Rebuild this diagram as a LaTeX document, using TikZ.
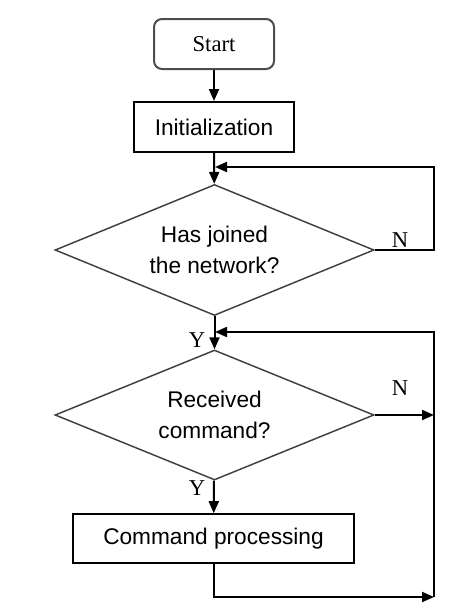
\documentclass[tikz,border=0pt]{standalone}
\usepackage{fontspec}
\setmainfont{Liberation Serif}
\newfontfamily\arialfont{Liberation Sans}
\usetikzlibrary{shapes.geometric,arrows.meta}

\begin{document}
\begin{tikzpicture}[x=0.75pt,y=-0.75pt,
    arr/.style={-{Triangle[length=9pt,width=7.5pt]},line width=1.5pt},
    procbox/.style={draw,line width=1.5pt,inner sep=0pt,font=\arialfont\fontsize{17}{23}\selectfont},
    decision/.style={diamond,aspect=2.44,draw=black!75,line width=1.1pt,inner sep=0pt,align=center,
      minimum width=239.25pt,font=\arialfont\fontsize{17}{23}\selectfont},
    yn/.style={inner sep=0pt,font=\fontsize{17}{20}\selectfont}]
  \useasboundingbox (0,0) rectangle (457,615);
  \draw
    (214,44) node[draw=black!70,line width=1.5pt,rounded corners=6pt,minimum width=90pt,
      minimum height=37.5pt,font=\fontsize{17}{20}\selectfont] (start){Start}
    (214,127) node[procbox,minimum width=120pt,minimum height=37.5pt] (init){Initialization}
    (214.5,250) node[decision,minimum height=98.25pt] (joined){Has joined\\the network?}
    (214.5,415) node[decision,minimum height=97.5pt] (received){Received\\command?}
    (213.5,538.5) node[procbox,line width=1.2pt,minimum width=210.75pt,minimum height=36.75pt] (process){Command processing}
    (400,240) node[yn] (n1){N}
    (400,388) node[yn] (n2){N}
    (197,340) node[yn] (y1){Y}
    (197,488) node[yn] (y2){Y};
  \coordinate (join1) at (215,167);
  \coordinate (loop1) at (434,167);
  \coordinate (join2) at (215,332);
  \coordinate (loop2) at (434,332);
  \coordinate (mid2) at (434,415);
  \coordinate (back) at (434,597);
  \begin{scope}[arr]
    \draw (start) to (init);
    \draw (init) to (joined);
    \draw (joined.east) -| (loop1) -- (join1);
    \draw (joined) to (received);
    \draw (received.east) -- (mid2);
    \draw (received) to (process);
    \draw (process.south) |- (back);
    \draw (back) -- (loop2) -- (join2);
  \end{scope}
\end{tikzpicture}
\end{document}
